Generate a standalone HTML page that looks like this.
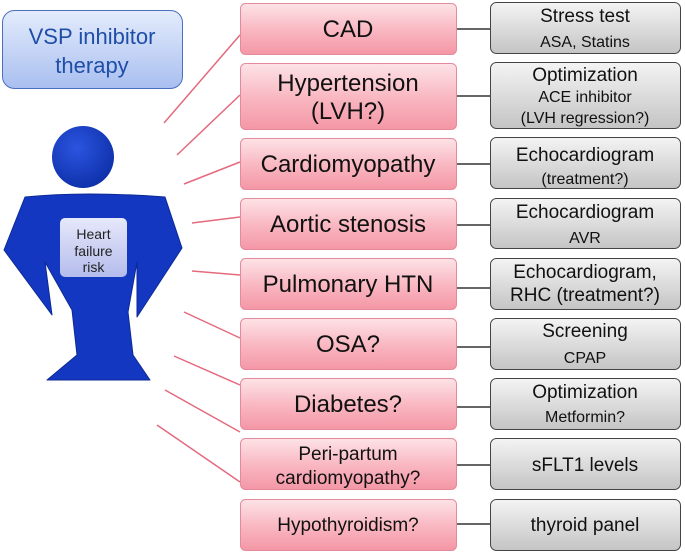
<!DOCTYPE html>
<html><head><meta charset="utf-8"><style>
html,body{margin:0;padding:0;background:#fff;}
svg{display:block;font-family:"Liberation Sans",Arial,sans-serif;}
</style></head><body>
<svg width="685" height="556" viewBox="0 0 685 556">
<defs>
<linearGradient id="pk" x1="0" y1="0" x2="0" y2="1">
<stop offset="0" stop-color="#fde3e7"/><stop offset="0.5" stop-color="#f9b9c3"/><stop offset="1" stop-color="#f496a5"/></linearGradient>
<linearGradient id="gy" x1="0" y1="0" x2="0" y2="1">
<stop offset="0" stop-color="#f4f4f4"/><stop offset="1" stop-color="#c4c4c4"/></linearGradient>
<linearGradient id="bl" x1="0" y1="0" x2="0" y2="1">
<stop offset="0" stop-color="#e4ecfc"/><stop offset="1" stop-color="#a9bff0"/></linearGradient>
<linearGradient id="hf" x1="0" y1="0" x2="0" y2="1">
<stop offset="0" stop-color="#e6e8fa"/><stop offset="1" stop-color="#b4bcec"/></linearGradient>
<radialGradient id="hd" cx="0.4" cy="0.35" r="0.7"><stop offset="0" stop-color="#2b55e0"/><stop offset="1" stop-color="#0d2fa8"/></radialGradient>
</defs>
<rect x="2.5" y="10.5" width="180" height="78" rx="12" fill="url(#bl)" stroke="#4a6fc0" stroke-width="1"/>
<text x="92" y="44" text-anchor="middle" font-size="22" fill="#1f4ea8">VSP inhibitor</text>
<text x="92" y="73" text-anchor="middle" font-size="22" fill="#1f4ea8">therapy</text>
<circle cx="83" cy="157" r="31" fill="url(#hd)"/>
<path d="M25,197 Q85,191 165,197 L182,248 L137,317 L137,262 L128,312 L133,355 L150,380 L47,380 L77,355 L72,310 L45,262 L52,315 L4,250 Z" fill="#1437c2" stroke="#0c2a94" stroke-width="1" stroke-linejoin="round"/>
<rect x="60" y="218" width="67" height="59" rx="5" fill="url(#hf)"/>
<text x="93.5" y="239" text-anchor="middle" font-size="14" fill="#222">Heart</text>
<text x="93.5" y="256" text-anchor="middle" font-size="14" fill="#222">failure</text>
<text x="93.5" y="272" text-anchor="middle" font-size="14" fill="#222">risk</text>
<g stroke="#e46a7e" stroke-width="1.5">
<line x1="164" y1="123" x2="240" y2="35"/>
<line x1="177" y1="155" x2="240" y2="95"/>
<line x1="184" y1="184" x2="240" y2="162"/>
<line x1="192" y1="223" x2="240" y2="217"/>
<line x1="192" y1="271" x2="240" y2="275"/>
<line x1="184" y1="312" x2="240" y2="338"/>
<line x1="174" y1="356" x2="240" y2="385"/>
<line x1="165" y1="390" x2="240" y2="432"/>
<line x1="157" y1="425" x2="240" y2="482"/>
</g>
<g stroke="#333" stroke-width="1.5">
<line x1="456" y1="29" x2="490" y2="29"/>
<line x1="456" y1="96" x2="490" y2="96"/>
<line x1="456" y1="164" x2="490" y2="164"/>
<line x1="456" y1="225" x2="490" y2="225"/>
<line x1="456" y1="288" x2="490" y2="288"/>
<line x1="456" y1="347" x2="490" y2="347"/>
<line x1="456" y1="407" x2="490" y2="407"/>
<line x1="456" y1="465" x2="490" y2="465"/>
<line x1="456" y1="524" x2="490" y2="524"/>
</g>
<g fill="url(#pk)" stroke="#e58a9a" stroke-width="1">
<rect x="240.5" y="3.5" width="216" height="51" rx="5"/>
<rect x="240.5" y="63.5" width="216" height="66" rx="5"/>
<rect x="240.5" y="138.5" width="216" height="51" rx="5"/>
<rect x="240.5" y="198.5" width="216" height="51" rx="5"/>
<rect x="240.5" y="258.5" width="216" height="51" rx="5"/>
<rect x="240.5" y="318.5" width="216" height="51" rx="5"/>
<rect x="240.5" y="378.5" width="216" height="51" rx="5"/>
<rect x="240.5" y="438.5" width="216" height="51" rx="5"/>
<rect x="240.5" y="499.5" width="216" height="51" rx="5"/>
</g>
<g text-anchor="middle" fill="#111">
<text x="348" y="37" font-size="24">CAD</text>
<text x="348" y="91" font-size="24">Hypertension</text>
<text x="348" y="119" font-size="24">(LVH?)</text>
<text x="348" y="172" font-size="24">Cardiomyopathy</text>
<text x="348" y="232" font-size="24">Aortic stenosis</text>
<text x="348" y="292" font-size="24">Pulmonary HTN</text>
<text x="348" y="352" font-size="24">OSA?</text>
<text x="348" y="412" font-size="24">Diabetes?</text>
<text x="348" y="460" font-size="19">Peri-partum</text>
<text x="348" y="484" font-size="19">cardiomyopathy?</text>
<text x="348" y="531" font-size="19">Hypothyroidism?</text>
</g>
<g fill="url(#gy)" stroke="#444" stroke-width="1">
<rect x="490.5" y="2.5" width="190" height="51" rx="6"/>
<rect x="490.5" y="62.5" width="190" height="66" rx="6"/>
<rect x="490.5" y="137.5" width="190" height="51" rx="6"/>
<rect x="490.5" y="198.5" width="190" height="50" rx="6"/>
<rect x="490.5" y="258.5" width="190" height="51" rx="6"/>
<rect x="490.5" y="318.5" width="190" height="51" rx="6"/>
<rect x="490.5" y="378.5" width="190" height="51" rx="6"/>
<rect x="490.5" y="438.5" width="190" height="51" rx="6"/>
<rect x="490.5" y="499.5" width="190" height="51" rx="6"/>
</g>
<g text-anchor="middle" fill="#111">
<text x="585" y="22" font-size="19">Stress test</text>
<text x="585" y="47" font-size="16">ASA, Statins</text>
<text x="585" y="81" font-size="19">Optimization</text>
<text x="585" y="102" font-size="16">ACE inhibitor</text>
<text x="585" y="123" font-size="16">(LVH regression?)</text>
<text x="585" y="161" font-size="19">Echocardiogram</text>
<text x="585" y="184" font-size="16">(treatment?)</text>
<text x="585" y="218" font-size="19">Echocardiogram</text>
<text x="585" y="243" font-size="16">AVR</text>
<text x="585" y="278" font-size="19">Echocardiogram,</text>
<text x="585" y="301" font-size="19">RHC (treatment?)</text>
<text x="585" y="337" font-size="19">Screening</text>
<text x="585" y="363" font-size="16">CPAP</text>
<text x="585" y="398" font-size="19">Optimization</text>
<text x="585" y="422" font-size="16">Metformin?</text>
<text x="585" y="471" font-size="19">sFLT1 levels</text>
<text x="585" y="531" font-size="19">thyroid panel</text>
</g>
</svg>
</body></html>
